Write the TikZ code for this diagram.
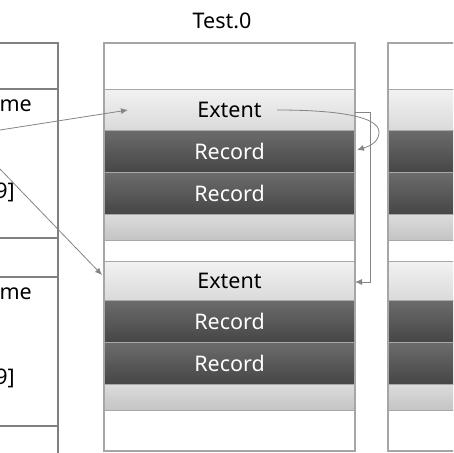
\documentclass[tikz,border=0pt]{standalone}
\usepackage{fontspec}
\setmainfont{Noto Sans}
\usetikzlibrary{arrows.meta}
\definecolor{extTop}{HTML}{F2F2F2}
\definecolor{extBot}{HTML}{DADADA}
\definecolor{recTop}{HTML}{6C6C6C}
\definecolor{recBot}{HTML}{464646}
\definecolor{gryTop}{HTML}{DCDCDC}
\definecolor{gryBot}{HTML}{C4C4C4}
\definecolor{sepc}{HTML}{A8A8A8}
\definecolor{colc}{HTML}{A6A6A6}
\definecolor{leftc}{HTML}{808080}
\definecolor{arrc}{HTML}{858585}
\tikzset{
  band/.style={rectangle, minimum width=251pt, inner sep=0pt, outer sep=0pt, anchor=north, line width=0.8pt},
  extband/.style={band, minimum height=41pt, top color=extTop, bottom color=extBot, draw=sepc},
  recband/.style={band, minimum height=42pt, top color=recTop, bottom color=recBot, draw=sepc},
  gryband/.style={band, minimum height=26pt, top color=gryTop, bottom color=gryBot, draw=sepc},
  colbox/.style={rectangle, draw=colc, line width=2pt, minimum width=251pt, minimum height=408pt, anchor=north, inner sep=0pt},
  leftbox/.style={rectangle, draw=leftc, line width=2pt, fill=white, anchor=north east, inner sep=0pt, minimum width=100pt},
  arr/.style={draw=arrc, line width=0.8pt, -{Latex[length=7pt,width=6pt]}},
  txt/.style={font=\fontsize{21.5}{25}\selectfont, inner sep=0pt},
  dtxt/.style={txt, text=black},
  wtxt/.style={txt, text=white}
}
\begin{document}
\begin{tikzpicture}[x=1pt,y=-1pt]
\clip (0,0) rectangle (453,453);
\fill[white] (0,0) rectangle (453,453);
% title
\node[txt] (title) at (222,21) {Test.0};
% left column
\node[leftbox, minimum height=46pt] (L0) at (59,42) {};
\node[leftbox, minimum height=149pt] (L1) at (59,88) {};
\node[leftbox, minimum height=39pt] (L2) at (59,237) {};
\node[leftbox, minimum height=149pt] (L3) at (59,276) {};
\node[leftbox, minimum height=30pt] (L4) at (59,425) {};
\node[txt, anchor=east] (n1) at (32,106) {me};
\node[txt, anchor=east] (r1) at (15,192) {9]};
\node[txt, anchor=east] (n2) at (32,294) {me};
\node[txt, anchor=east] (r2) at (15,378) {9]};
% middle and right columns
\foreach \c/\cx in {m/229.5, r/513.5} {
  \fill[white] (\cx-125.5,42) rectangle (\cx+125.5,450);
  \node[extband] (\c e1) at (\cx,89) {};
  \node[recband] (\c a1) at (\cx,130) {};
  \node[recband] (\c b1) at (\cx,172) {};
  \node[gryband] (\c g1) at (\cx,214) {};
  \node[extband, minimum height=39pt] (\c e2) at (\cx,261) {};
  \node[recband] (\c a2) at (\cx,300) {};
  \node[recband] (\c b2) at (\cx,342) {};
  \node[gryband] (\c g2) at (\cx,384) {};
  \node[colbox] (\c col) at (\cx,42) {};
}
% band texts in the middle column
\node[dtxt] (te1) at (me1) {Extent};
\node[wtxt] (ta1) at (ma1) {Record};
\node[wtxt] (tb1) at (mb1) {Record};
\node[dtxt] (te2) at (me2) {Extent};
\node[wtxt] (ta2) at (ma2) {Record};
\node[wtxt] (tb2) at (mb2) {Record};
% connectors
\coordinate (s1) at (0,130);
\coordinate (t1) at (128,110);
\draw[arr] (s1) -- (t1);
\coordinate (s2) at (0,169);
\coordinate (t2) at (102,275);
\draw[arr] (s2) -- (t2);
\coordinate (c0) at (277,110);
\coordinate (c1) at (379,132);
\coordinate (c2) at (357,150);
\draw[arr] (c0) .. controls (335,110) and (379,116) .. (c1) .. controls (379,142) and (370,146) .. (c2);
\draw[arr] ([yshift=-2.5pt]me1.east) -- ++(15,0) |- ([yshift=-1.5pt]me2.east);
\end{tikzpicture}
\end{document}
